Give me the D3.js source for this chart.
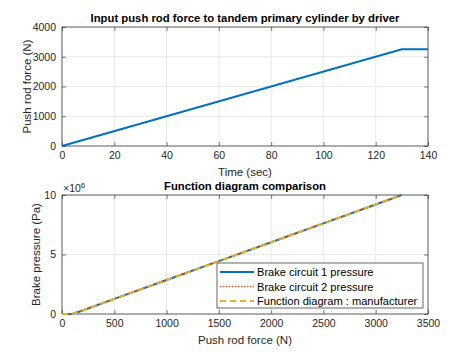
<!DOCTYPE html>
<html><head><meta charset="utf-8">
<script src="https://cdn.jsdelivr.net/npm/d3@7"></script>
<style>body{margin:0;background:#fff}svg{display:block;font-family:"Liberation Sans",Arial,sans-serif}</style>
</head><body><svg id="c" width="474" height="355"></svg>
<script>
// Top chart data
const time = [0, 130, 140];
const pushForce = [0, 3250, 3250];
const topXTicks = [0,20,40,60,80,100,120,140];
const topYTicks = [0,1000,2000,3000,4000];
// Bottom chart data (pressure in units of 1e6 Pa)
const rodForce = [0, 60, 100, 150, 500, 1000, 1500, 2000, 2500, 3000, 3250];
const circuit1 = [0, 0, 0.03, 0.15, 1.27, 2.86, 4.44, 6.03, 7.62, 9.2, 10.0];
const circuit2 = [0, 0, 0.03, 0.15, 1.27, 2.86, 4.44, 6.03, 7.62, 9.2, 10.0];
const manufacturer = [0, 0, 0.03, 0.15, 1.27, 2.86, 4.44, 6.03, 7.62, 9.2, 10.0];
const botXTicks = [0,500,1000,1500,2000,2500,3000,3500];
const botYTicks = [0,5,10];
const legendLabels = ["Brake circuit 1 pressure","Brake circuit 2 pressure","Function diagram : manufacturer"];

const svg = d3.select("#c");
const axCol = "#262626", gridCol = "#e3e3e3";

function panel(o){
  const g = svg.append("g");
  const x = d3.scaleLinear().domain(o.xd).range([62, 428]);
  const y = d3.scaleLinear().domain(o.yd).range([o.y1, o.y0]);
  g.selectAll(".gx").data(o.xt).enter().append("line")
    .attr("x1", d=>x(d)).attr("x2", d=>x(d)).attr("y1", o.y0).attr("y2", o.y1)
    .attr("stroke", gridCol).attr("stroke-width", 0.8);
  g.selectAll(".gy").data(o.yt).enter().append("line")
    .attr("y1", d=>y(d)).attr("y2", d=>y(d)).attr("x1", 62).attr("x2", 428)
    .attr("stroke", gridCol).attr("stroke-width", 0.8);
  g.append("g").attr("transform", `translate(0,${o.y1})`)
    .call(d3.axisBottom(x).tickValues(o.xt).tickSize(-4).tickPadding(6).tickFormat(d3.format("d")));
  g.append("g").attr("transform", `translate(62,0)`)
    .call(d3.axisLeft(y).tickValues(o.yt).tickSize(-4).tickPadding(6).tickFormat(d3.format("d")));
  g.append("g").attr("transform", `translate(0,${o.y0})`)
    .call(d3.axisTop(x).tickValues(o.xt).tickSize(-4).tickFormat(""));
  g.append("g").attr("transform", `translate(428,0)`)
    .call(d3.axisRight(y).tickValues(o.yt).tickSize(-4).tickFormat(""));
  g.selectAll(".domain").remove();
  g.selectAll(".tick line").attr("stroke", axCol).attr("stroke-width", 0.6);
  g.selectAll(".tick text").attr("fill", axCol).style("font-size", "10.5px");
  g.append("rect").attr("x", 62).attr("y", o.y0).attr("width", 366).attr("height", o.y1 - o.y0)
    .attr("fill", "none").attr("stroke", axCol).attr("stroke-width", 0.7);
  g.append("text").attr("x", 245).attr("y", o.y0 - 5).attr("text-anchor", "middle")
    .style("font-size", "11.3px").style("font-weight", "bold").attr("fill", "#000").text(o.title);
  g.append("text").attr("x", 245).attr("y", o.y1 + 30).attr("text-anchor", "middle")
    .style("font-size", "11.5px").attr("fill", axCol).text(o.xl);
  g.append("text").attr("transform", `translate(${o.ylx},${(o.y0+o.y1)/2}) rotate(-90)`)
    .attr("text-anchor", "middle").style("font-size", "11.5px").attr("fill", axCol).text(o.yl);
  return {g, x, y};
}

const topPanel = panel({xd:[0,140], yd:[0,4000], y0:27, y1:146, xt:topXTicks, yt:topYTicks,
  title:"Input push rod force to tandem primary cylinder by driver", xl:"Time (sec)", yl:"Push rod force (N)", ylx:31});
topPanel.g.append("path").datum(time.map((t,i)=>[t, pushForce[i]]))
  .attr("d", d3.line().x(d=>topPanel.x(d[0])).y(d=>topPanel.y(d[1])))
  .attr("fill","none").attr("stroke","#0072BD").attr("stroke-width",2);

const botPanel = panel({xd:[0,3500], yd:[0,10], y0:195, y1:314, xt:botXTicks, yt:botYTicks,
  title:"Function diagram comparison", xl:"Push rod force (N)", yl:"Brake pressure (Pa)", ylx:40});
const line = d3.line().x(d=>botPanel.x(d[0])).y(d=>botPanel.y(d[1]));
const series = [
  {v:circuit1, c:"#0072BD", w:2, dash:null},
  {v:circuit2, c:"#D95319", w:1.5, dash:"1.5,1.5"},
  {v:manufacturer, c:"#EDB120", w:2, dash:"6,4"}
];
series.forEach(s=>{
  botPanel.g.append("path").datum(rodForce.map((f,i)=>[f, s.v[i]])).attr("d", line)
    .attr("fill","none").attr("stroke", s.c).attr("stroke-width", s.w)
    .attr("stroke-dasharray", s.dash);
});
const ex = botPanel.g.append("text").attr("x", 63).attr("y", 192).style("font-size","10.5px").attr("fill", axCol);
ex.append("tspan").text("×10");
ex.append("tspan").attr("dy", -4).style("font-size","8px").text("6");

const lg = botPanel.g.append("g");
lg.append("rect").attr("x", 217).attr("y", 263).attr("width", 206).attr("height", 45)
  .attr("fill", "#fff").attr("stroke", axCol).attr("stroke-width", 0.7);
legendLabels.forEach((t,i)=>{
  const yy = 272 + i*14.5;
  const s = series[i];
  lg.append("line").attr("x1", 220).attr("x2", 254).attr("y1", yy).attr("y2", yy)
    .attr("stroke", s.c).attr("stroke-width", s.w).attr("stroke-dasharray", s.dash);
  lg.append("text").attr("x", 257).attr("y", yy + 4).style("font-size","11.1px").attr("fill","#000").text(t);
});
</script></body></html>
